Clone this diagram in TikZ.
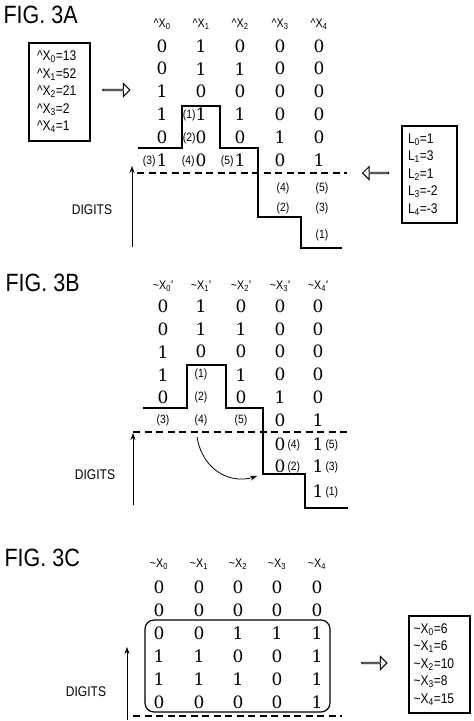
\documentclass[tikz,border=0pt]{standalone}
\usepackage{fontspec}
\newfontfamily\labfont[FakeStretch=0.86]{Liberation Sans}
\newfontfamily\digfont{DejaVu Serif}
\usetikzlibrary{shapes.arrows,arrows.meta}

\tikzset{
    fig/.style={font=\labfont\fontsize{25}{25}\selectfont,anchor=west,inner sep=0},
    head/.style={font=\labfont\fontsize{12.5}{12.5}\selectfont,inner sep=0},
    bit/.style={font=\digfont\fontsize{17}{17}\selectfont,inner sep=0},
    tag/.style={font=\labfont\fontsize{12}{12}\selectfont,inner sep=0},
    lab/.style={font=\labfont\fontsize{14}{14}\selectfont,inner sep=0},
    valbox/.style={draw,font=\labfont\fontsize{14}{17.5}\selectfont,align=left,inner sep=0},
    hollow/.style={single arrow,draw,minimum height=27pt,minimum width=13pt,
        single arrow head extend=3.5pt,inner sep=0,line width=0.9pt},
    digits/.style={-{Stealth[length=7pt,width=5pt]},line width=0.8pt},
    stair/.style={line width=1.1pt},
    cut/.style={dash pattern=on 7pt off 4.5pt,line width=1.3pt}
}

\begin{document}
\begin{tikzpicture}[x=1pt,y=-1pt,line width=1.1pt]
\useasboundingbox (0,0) rectangle (474,721);

% FIG. 3A
\node[fig] (figA) at (3,15) {FIG. 3A};
\foreach \x [count=\c from 0] in {162,201,240,280,319}
    \node[head] (hA\c) at (\x,24) {\textasciicircum X\textsubscript{\c}};
\foreach \x/\col [count=\c from 0] in {162/{0,0,1,1,0,1},201/{1,1,0,1,0,0},
        240/{0,1,0,1,0,1},280/{0,0,0,0,1,0},319/{0,0,0,0,0,1}}
    \foreach \b [count=\r] in \col
        \node[bit] (a\c\r) at (\x,{23.2+22.8*\r}) {\b};
\node[tag,anchor=east] (tA3) at ([yshift=-1pt]a06.west) {(3)};
\node[tag,anchor=east] (tA1) at ([xshift=1pt,yshift=-1pt]a14.west) {(1)};
\node[tag,anchor=east] (tA2) at ([xshift=1pt,yshift=-1pt]a15.west) {(2)};
\node[tag,anchor=east] (tA4) at ([yshift=-1pt]a16.west) {(4)};
\node[tag,anchor=east] (tA5) at ([yshift=-1pt]a26.west) {(5)};
\node[tag] (bA4) at (283,188) {(4)};
\node[tag] (bA5) at (322,188) {(5)};
\node[tag] (bA2) at (283,208) {(2)};
\node[tag] (bA3) at (322,208) {(3)};
\node[tag] (bA1) at (322,235) {(1)};

\draw[stair] (138,148) -- (182,148) -- (182,106) -- (220,106) -- (220,148)
    -- (258,148) -- (258,217) -- (301,217) -- (301,248) -- (342,248);
\draw[cut] (137,173) -- (347,173);

\node[valbox,minimum width=61pt,minimum height=98pt,text width=45pt] (boxA) at (59.5,92)
    {\textasciicircum X\textsubscript{0}=13\\\textasciicircum X\textsubscript{1}=52\\
     \textasciicircum X\textsubscript{2}=21\\\textasciicircum X\textsubscript{3}=2\\
     \textasciicircum X\textsubscript{4}=1};
\node[hollow] (arrA) at (116,90) {};
\node[valbox,minimum width=55pt,minimum height=97pt,text width=43pt] (boxL) at (429.5,174.5)
    {L\textsubscript{0}=1\\L\textsubscript{1}=3\\L\textsubscript{2}=1\\
     L\textsubscript{3}=-2\\L\textsubscript{4}=-3};
\node[hollow,shape border rotate=180,minimum height=26pt] (arrL) at (376,173) {};

\coordinate (dA0) at (132,247);
\coordinate (dA1) at (132,166);
\draw[digits] (dA0) -- (dA1);
\node[lab] (digA) at (92,210) {DIGITS};

% FIG. 3B
\node[fig] (figB) at (5,283) {FIG. 3B};
\foreach \x [count=\c from 0] in {163,201,241,280,318}
    \node[head] (hB\c) at (\x,286) {\textasciitilde X\textsubscript{\c}'};
\foreach \x/\col [count=\c from 0] in {163/{0,0,1,1,0},201/{1,1,0},
        241/{0,1,0,1,0},280/{0,0,0,0,1,0},318/{0,0,0,0,0,1}}
    \foreach \b [count=\r] in \col
        \node[bit] (b\c\r) at (\x,{283.1+22.9*\r}) {\b};
\node[tag] (tB1) at (201,374.7) {(1)};
\node[tag] (tB2) at (201,397.6) {(2)};
\node[tag] (tB3) at (163,420.5) {(3)};
\node[tag] (tB4) at (201,420.5) {(4)};
\node[tag] (tB5) at (241,420.5) {(5)};
\node[bit] (b37) at (280,444) {0};
\node[bit] (b38) at (280,466) {0};
\node[bit] (b47) at (318,444) {1};
\node[bit] (b48) at (318,466) {1};
\node[bit] (b49) at (318,491) {1};
\node[tag,anchor=west] (lB4) at ([xshift=1pt,yshift=-1.5pt]b37.east) {(4)};
\node[tag,anchor=west] (lB2) at ([xshift=1pt,yshift=-1.5pt]b38.east) {(2)};
\node[tag,anchor=west] (lB5) at ([xshift=1pt,yshift=-1.5pt]b47.east) {(5)};
\node[tag,anchor=west] (lB3) at ([xshift=1pt,yshift=-1.5pt]b48.east) {(3)};
\node[tag,anchor=west] (lB1) at ([xshift=1pt,yshift=-1.5pt]b49.east) {(1)};

\draw[stair] (143,408) -- (187,408) -- (187,365) -- (226,365) -- (226,408)
    -- (263,408) -- (263,474) -- (305,474) -- (305,508) -- (348,508);
\draw[cut] (133,432) -- (348,432);

\coordinate (mv0) at (197,437);
\coordinate (mv1) at (257,476);
\draw[digits] (mv0) .. controls (203,472) and (232,484) .. (mv1);

\coordinate (dB0) at (133,505);
\coordinate (dB1) at (133,433);
\draw[digits] (dB0) -- (dB1);
\node[lab] (digB) at (95,475) {DIGITS};

% FIG. 3C
\node[fig] (figC) at (4,558) {FIG. 3C};
\foreach \x [count=\c from 0] in {159,199,238,277,317}
    \node[head] (hC\c) at (\x,564) {\textasciitilde X\textsubscript{\c}};
\foreach \x/\col [count=\c from 0] in {159/{0,0,0,1,1,0},199/{0,0,0,1,1,0},
        238/{0,0,1,0,1,0},277/{0,0,1,0,0,0},317/{0,0,1,1,1,1}}
    \foreach \b [count=\r] in \col
        \node[bit] (c\c\r) at (\x,{564+23*\r}) {\b};
\draw[rounded corners=9pt,line width=1.2pt] (145,620) rectangle (330,712);
\draw[cut] (133,716) -- (342,716);

\coordinate (dC0) at (127,720);
\coordinate (dC1) at (127,647);
\draw[digits] (dC0) -- (dC1);
\node[lab] (digC) at (86,692) {DIGITS};

\node[hollow,minimum height=25pt] (arrC) at (374,663) {};
\node[valbox,minimum width=61pt,minimum height=97pt,text width=52pt] (boxC) at (439.5,664.5)
    {\textasciitilde X\textsubscript{0}=6\\\textasciitilde X\textsubscript{1}=6\\
     \textasciitilde X\textsubscript{2}=10\\\textasciitilde X\textsubscript{3}=8\\
     \textasciitilde X\textsubscript{4}=15};

\end{tikzpicture}
\end{document}
